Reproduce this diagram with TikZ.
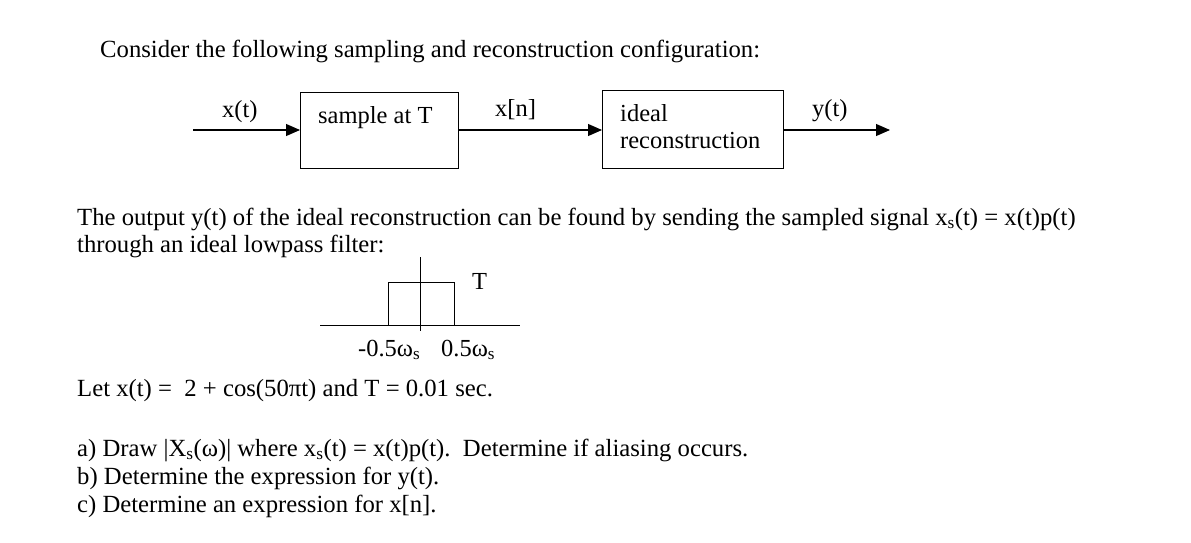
\documentclass[tikz,border=0pt]{standalone}
\usepackage{fontspec}
\setmainfont{Liberation Serif}
\usetikzlibrary{arrows.meta}
\newcommand{\sub}[1]{\textsubscript{#1}}
\begin{document}
\begin{tikzpicture}[x=1pt,y=-1pt,
  txt/.style={anchor=base west,inner sep=0pt,font=\fontsize{24.7}{28}\selectfont},
  sm/.style={anchor=base west,inner sep=0pt,font=\fontsize{24.5}{28}\selectfont},
  blk/.style={draw,line width=1.1pt,anchor=north west,inner sep=0pt},
  arr/.style={line width=1.1pt,-{Triangle[length=14pt,width=12pt]}}]
\useasboundingbox (0,0) rectangle (1191,542);
\node[txt] (t1) at (100,57) {Consider the following sampling and reconstruction configuration:};
\node[blk,minimum width=158pt,minimum height=76pt] (b1) at (300,92) {};
\node[blk,minimum width=181pt,minimum height=78pt] (b2) at (602,90) {};
\node[sm] (l1) at (318,123) {sample at T};
\node[sm] (l2) at (620,121) {ideal};
\node[sm] (l3) at (620,148) {reconstruction};
\coordinate (in) at (193,130);
\coordinate (out) at (890,130);
\draw[arr] (in) -- (b1.west |- in);
\draw[arr] (b1.east |- in) -- (b2.west |- in);
\draw[arr] (b2.east |- in) -- (out);
\node[sm] (xt) at (222,117) {x(t)};
\node[sm] (xn) at (495,116) {x[n]};
\node[sm] (yt) at (812,116) {y(t)};
\node[txt] (t2) at (77,225) {The output y(t) of the ideal reconstruction can be found by sending the sampled signal x\sub{s}(t) = x(t)p(t)};
\node[txt] (t3) at (77,252) {through an ideal lowpass filter:};
\coordinate (ax1) at (320,325); \coordinate (ax2) at (520,325);
\coordinate (v1) at (420,257); \coordinate (v2) at (420,331);
\draw[line width=1pt] (ax1) -- (ax2);
\draw[line width=1pt] (v1) -- (v2);
\draw[line width=1pt] (388,325) -- (388,282) -- (454,282) -- (454,325);
\node[sm] (T) at (472,289) {T};
\node[sm] (w1) at (358,356) {-0.5ω\sub{s}};
\node[sm] (w2) at (441,356) {0.5ω\sub{s}};
\node[txt] (t4) at (77,396) {Let x(t) =\ \ 2 + cos(50πt) and T = 0.01 sec.};
\node[txt] (a) at (77,456) {a) Draw |X\sub{s}(ω)| where x\sub{s}(t) = x(t)p(t).\ \ Determine if aliasing occurs.};
\node[txt] (b) at (77,484) {b) Determine the expression for y(t).};
\node[txt] (c) at (77,512) {c) Determine an expression for x[n].};
\end{tikzpicture}
\end{document}
